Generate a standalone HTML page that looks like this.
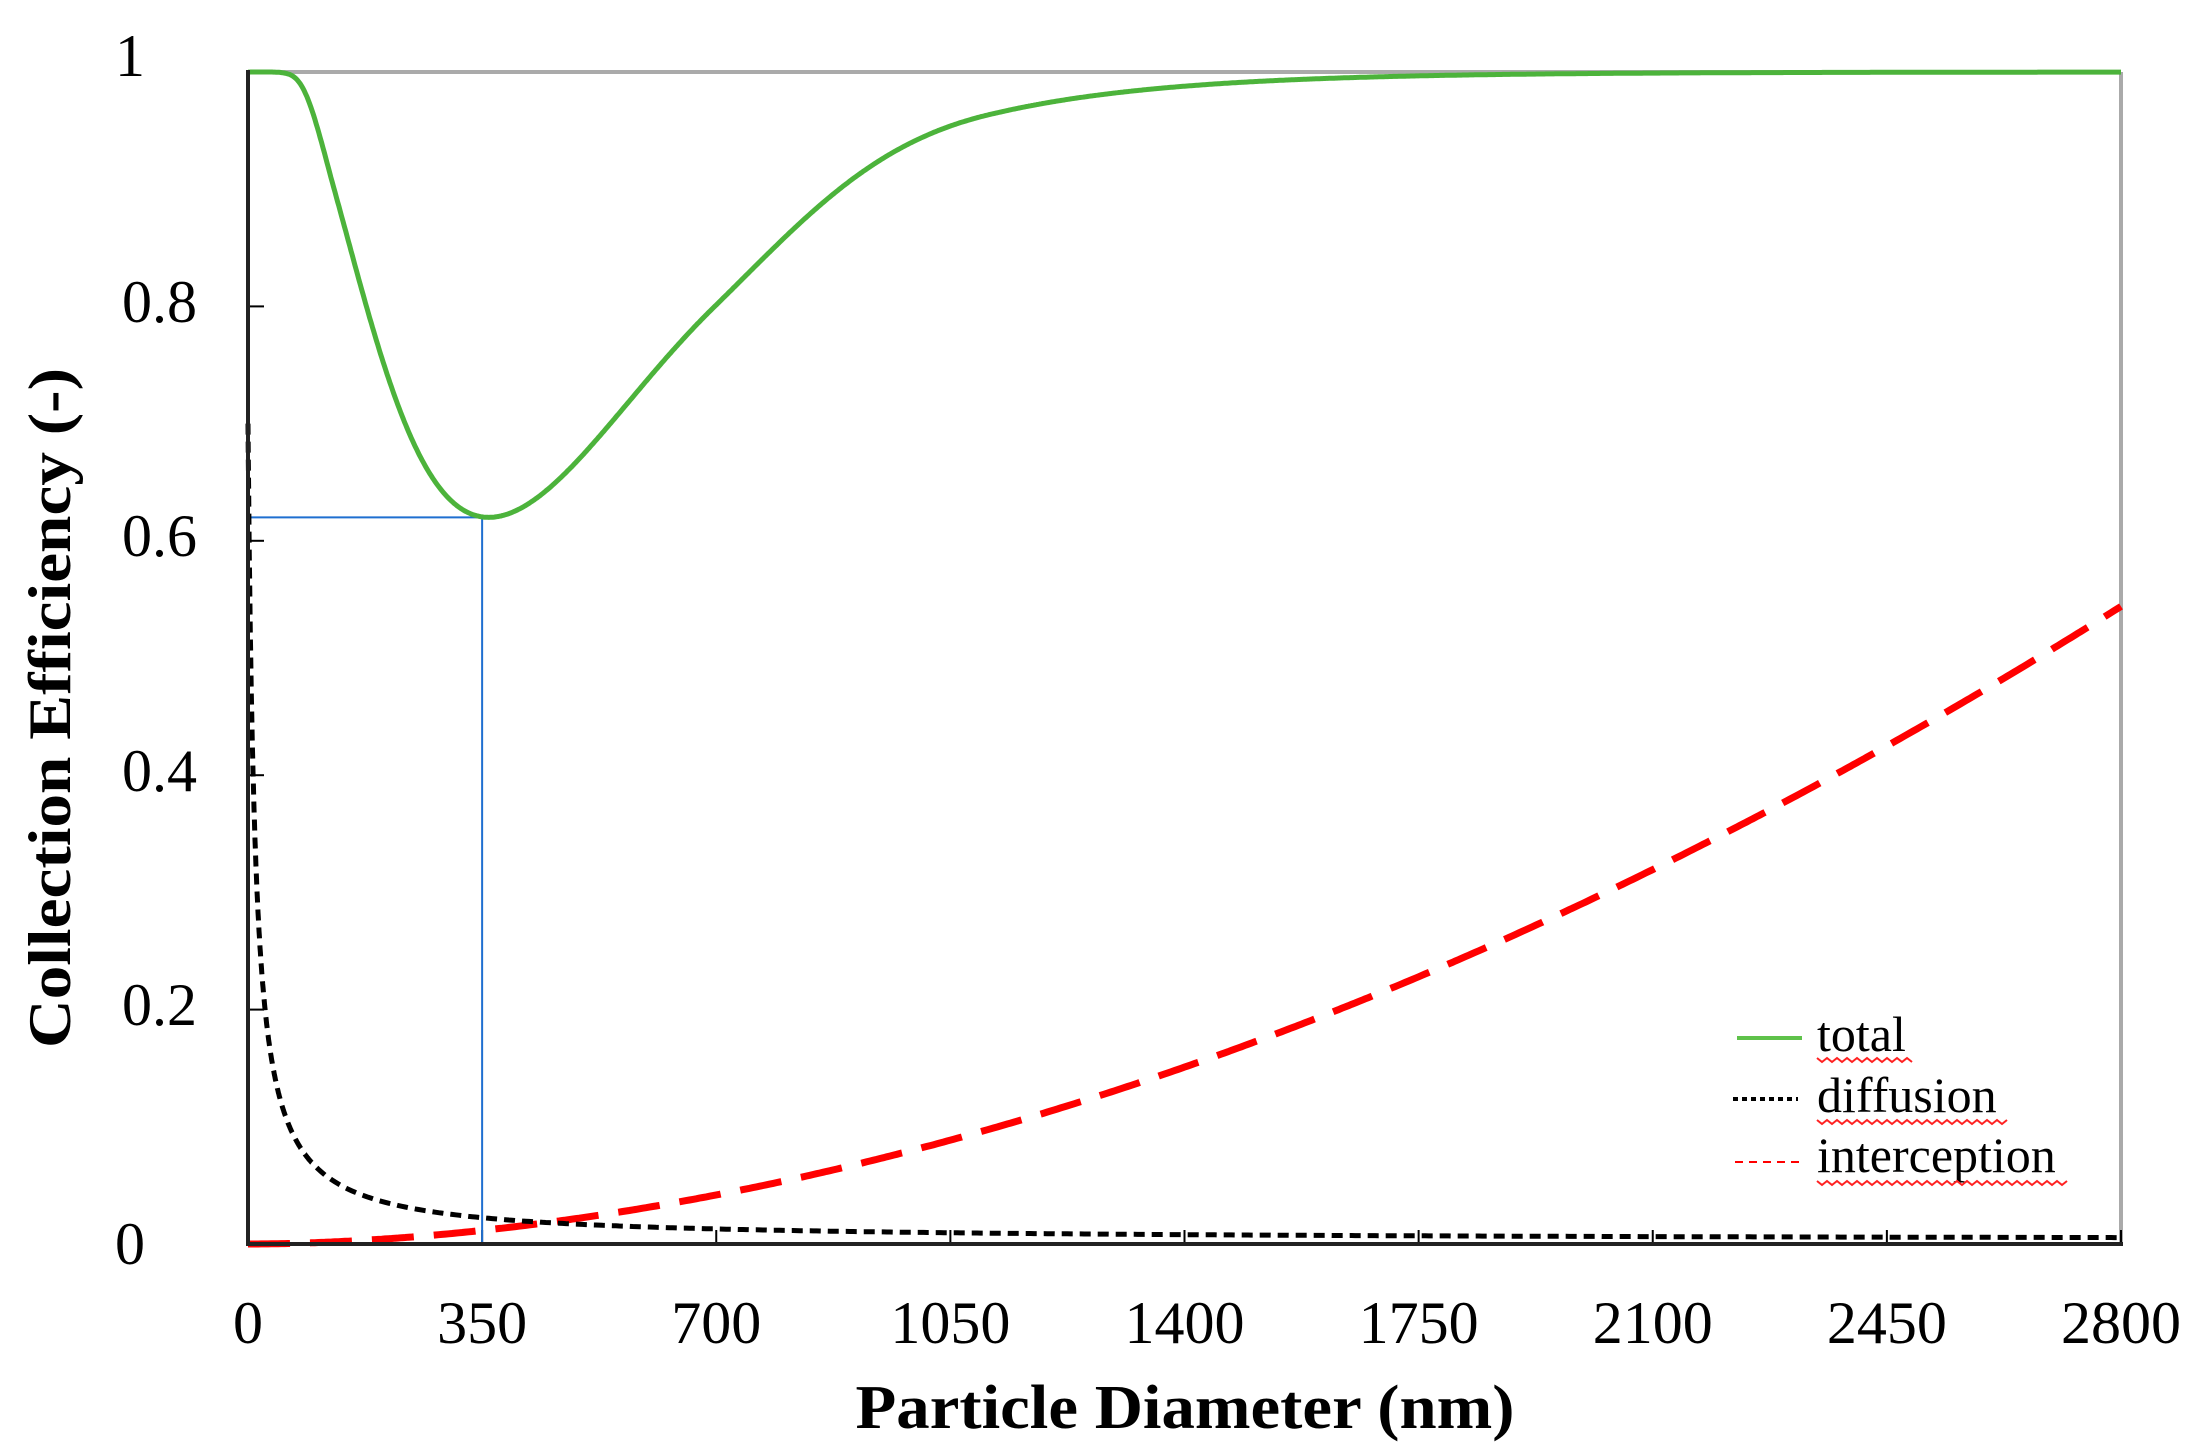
<!DOCTYPE html>
<html><head><meta charset="utf-8"><style>
html,body{margin:0;padding:0;background:#fff;}
svg{display:block;}
text{font-family:"Liberation Serif",serif;fill:#000;}
</style></head><body>
<svg id="s" width="2211" height="1451" viewBox="0 0 2211 1451" xmlns="http://www.w3.org/2000/svg">
<rect width="2211" height="1451" fill="#fff"/>
<line x1="248" y1="72" x2="2121" y2="72" stroke="#aaa" stroke-width="4"/>
<line x1="2121" y1="72" x2="2121" y2="1244" stroke="#aaa" stroke-width="4"/>
<g id="ticks" stroke="#000" stroke-width="2"></g>
<g id="curves"></g>
<line x1="248" y1="70" x2="248" y2="1246" stroke="#222" stroke-width="4"/>
<line x1="246" y1="1244" x2="2123" y2="1244" stroke="#222" stroke-width="4"/>
<g font-size="60" text-anchor="end">
<text x="145" y="76">1</text>
<text x="197" y="322">0.8</text>
<text x="197" y="556">0.6</text>
<text x="197" y="791">0.4</text>
<text x="197" y="1025">0.2</text>
<text x="145" y="1264">0</text>
</g>
<g id="xl" font-size="60" text-anchor="middle"></g>
<text x="1185" y="1428" font-size="62" font-weight="bold" text-anchor="middle" textLength="659" lengthAdjust="spacingAndGlyphs">Particle Diameter (nm)</text>
<text transform="translate(70,708) rotate(-90)" font-size="60" font-weight="bold" text-anchor="middle" textLength="680" lengthAdjust="spacingAndGlyphs">Collection Efficiency (-)</text>
<line x1="1737" y1="1038" x2="1802" y2="1038" stroke="#5fc24a" stroke-width="4"/>
<line x1="1733" y1="1099" x2="1798" y2="1099" stroke="#000" stroke-width="4" stroke-dasharray="5,4"/>
<line x1="1735" y1="1162" x2="1800" y2="1162" stroke="#f00" stroke-width="2" stroke-dasharray="8,6"/>
<g font-size="50">
<text x="1817" y="1051">total</text>
<text x="1817" y="1112">diffusion</text>
<text x="1817" y="1172">interception</text>
</g>
<g fill="none" stroke="#f22" stroke-width="2">
<path id="w1" d=""/><path id="w2" d=""/><path id="w3" d=""/>
</g>
</svg>
<script>
var X0=248,X1=2121,Y0=1244,Y1=72;
function px(d){return X0+(X1-X0)*d/2800;}
function py(v){return Y0-(Y0-Y1)*v;}
var NS="http://www.w3.org/2000/svg";
function el(p,tag,attrs){var e=document.createElementNS(NS,tag);for(var k in attrs)e.setAttribute(k,attrs[k]);p.appendChild(e);return e;}
var tk=document.getElementById('ticks'),xl=document.getElementById('xl'),cv=document.getElementById('curves');
for(var i=0;i<=8;i++){var x=px(i*350);el(tk,'line',{x1:x,y1:Y0,x2:x,y2:Y0-14});var t=el(xl,'text',{x:x,y:1343});t.textContent=String(i*350);}
for(var j=1;j<5;j++){var y=py(j*0.2);el(tk,'line',{x1:X0,y1:y,x2:X0+16,y2:y});}
var S=[[-3,.72],[-1.8,.77],[-1.0,.89],[0,.87],[0.66,.826],[1.12,.734],[3,.68]];
function sig(u){for(var k=0;k<S.length-1;k++){if(u<=S[k+1][0]){var a=S[k],b=S[k+1];var t=(u-a[0])/(b[0]-a[0]);t=t*t*(3-2*t);return a[1]+(b[1]-a[1])*t;}}return .68;}
function total(d){if(d<=0)return 1;var u=Math.log(d/360);var s=sig(u);return 1-0.38*Math.exp(-(u/s)*(u/s));}
function path(f,step){var s='';for(var d=0;d<=2800;d+=step){var v=Math.min(1,f(d));s+=(d==0?'M':'L')+px(d).toFixed(1)+','+py(v).toFixed(1);}return s;}
el(cv,'polyline',{points:X0+','+py(.62)+' '+px(350)+','+py(.62)+' '+px(350)+','+Y0,fill:'none',stroke:'#1f6fd0','stroke-width':2});
el(cv,'path',{d:path(function(d){return 0.544*Math.pow(d/2800,1.85);},5),fill:'none',stroke:'#f00','stroke-width':7,'stroke-dasharray':'42,20'});
var dd='M'+px(0)+','+py(0.7);for(var d=0.5;d<=2800;d+=(d<100?0.5:5)){dd+='L'+px(d).toFixed(1)+','+py(0.7/(1+d/10)+0.003).toFixed(1);}
el(cv,'path',{d:dd,fill:'none',stroke:'#000','stroke-width':5,'stroke-dasharray':'11,7'});
el(cv,'path',{d:path(total,2),fill:'none',stroke:'#4cb33b','stroke-width':5});
function wave(id,x0,x1,y){var s='M'+x0+','+y;var up=true;for(var x=x0+5;x<=x1;x+=5){s+='L'+x+','+(up?y+4:y);up=!up;}document.getElementById(id).setAttribute('d',s);}
wave('w1',1817,1912,1058);wave('w2',1817,2007,1120);wave('w3',1817,2070,1181);
</script>
</body></html>
